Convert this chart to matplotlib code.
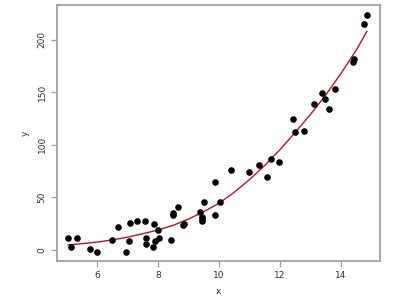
import numpy as np
import matplotlib
matplotlib.use('Agg')
import matplotlib.pyplot as plt

# 散点数据
x_pts = [5.05, 5.14, 5.35, 5.75, 6.0, 6.49, 6.68, 6.93, 7.04, 7.09, 7.32, 7.57, 7.60,
         7.59, 7.86, 7.88, 7.84, 8.0, 8.02, 8.43, 8.48, 8.5, 8.65, 8.84, 8.82, 9.5,
         9.38, 9.44, 9.44, 9.45, 9.86, 9.85, 10.03, 10.39, 10.99, 11.31, 11.56, 11.7,
         11.97, 12.41, 12.49, 12.78, 13.12, 13.38, 13.48, 13.6, 13.81, 14.38, 14.42,
         14.77, 14.85]
y_pts = [11.1, 3.1, 11.7, 1, -2.2, 9.2, 22.2, -1.6, 8.9, 25.4, 27.3, 27.6, 11.7,
         6, 24.8, 8.6, 2.9, 19, 11.4, 9.2, 33, 35, 41, 24.8, 23.5, 45.4,
         36.5, 31.5, 29.5, 28, 64.5, 33, 45.4, 75.9, 74.3, 81.3, 69.8, 86.4,
         83.5, 124.5, 112, 113.3, 138.8, 149.5, 143.8, 134.6, 153, 178.4, 181.6,
         215, 224]

# 拟合曲线
x_fit = [5.05, 5.5, 6, 6.5, 7, 7.5, 8, 8.5, 9, 9.5, 10, 10.5, 11, 11.5, 12,
         12.5, 13, 13.5, 14, 14.5, 14.85]
y_fit = [4.8, 6, 7.5, 9.6, 12.2, 15.5, 19, 23.5, 29.5, 36.5, 44.5, 55, 67, 80.5,
         95.5, 112, 129, 147.5, 168, 190, 208]

x_ticks = [6, 8, 10, 12, 14]
y_ticks = [0, 50, 100, 150, 200]

fig = plt.figure(figsize=(4, 3), dpi=100)
ax = fig.add_axes([0.1425, 0.13, 0.8075, 0.853])

ax.scatter(x_pts, y_pts, s=14, color='black', zorder=3)
ax.plot(x_fit, y_fit, color='#b5142a', linewidth=1.0, zorder=2)

ax.set_xlim(4.68, 15.28)
ax.set_ylim(-10.5, 233)
ax.set_xticks(x_ticks)
ax.set_yticks(y_ticks)
ax.set_yticklabels([str(v) for v in y_ticks], rotation=90, va='center')

for s in ax.spines.values():
    s.set_color('#a0a0a0')
    s.set_linewidth(1.3)
ax.tick_params(direction='out', length=4.5, width=0.9, color='#a0a0a0',
               labelsize=6.5, labelcolor='#333333', pad=3)

ax.set_xlabel('x', fontsize=6.5, color='#333333', labelpad=5)
ax.set_ylabel('y', fontsize=6.5, color='#333333', labelpad=6)

fig.savefig('out.png', dpi=100)
